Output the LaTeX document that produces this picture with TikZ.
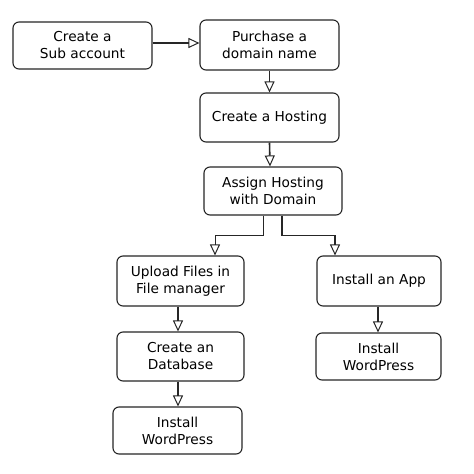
\documentclass[tikz,border=0pt]{standalone}
\usepackage{fontspec}
\setmainfont{DejaVu Sans}
\usetikzlibrary{arrows.meta}

\tikzset{
  stepbox/.style={draw=black!85, line width=1.1pt, rounded corners=6pt, align=center,
    font=\fontsize{13.7}{17}\selectfont, inner sep=0pt},
  flow/.style={-{Triangle[open,length=11pt,width=10pt,line width=1pt]}, line width=1.6pt, draw=black!85},
  thinflow/.style={flow, line width=0.9pt}
}

\begin{document}
\begin{tikzpicture}[x=1pt,y=-1pt]
  \useasboundingbox[fill=white] (0,0) rectangle (474,474);

  \draw (82.5,45.5) node[stepbox, minimum width=139pt, minimum height=47pt] (sub) {Create a\\Sub account};
  \draw (269.5,45) node[stepbox, minimum width=139pt, minimum height=50pt] (domain) {Purchase a\\domain name};
  \draw (269.5,117.5) node[stepbox, minimum width=139pt, minimum height=49pt] (hosting) {Create a Hosting};
  \draw (273,191) node[stepbox, minimum width=138pt, minimum height=48pt] (assign) {Assign Hosting\\with Domain};

  \draw (180.5,281) node[stepbox, minimum width=127pt, minimum height=50pt] (upload) {Upload Files in\\File manager};
      \draw (180.5,356.5) node[stepbox, minimum width=127pt, minimum height=49pt] (database) {Create an\\Database};
      \draw (177.5,430.5) node[stepbox, minimum width=129pt, minimum height=47pt] (wpleft) {Install\\WordPress};

  \draw (379,281) node[stepbox, minimum width=124pt, minimum height=50pt] (app) {Install an App};
      \draw (378.5,356.5) node[stepbox, minimum width=125pt, minimum height=47pt] (wpright) {Install\\WordPress};

    \draw[flow] ([yshift=2.5pt]sub.east) -- ([yshift=2pt]domain.west);
    \draw[flow] (domain.south) -- (hosting.north);
    \draw[flow] (hosting.south) -- ([xshift=-3pt]assign.north);
    \draw[thinflow] ([xshift=-10pt]assign.south) -- ++(0,20) -| ([xshift=34.5pt]upload.north);
    \draw[flow, line width=1.3pt] ([xshift=9pt]assign.south) -- ++(0,20) -| ([xshift=-44pt]app.north);
    \draw[thinflow, line width=1.1pt] ([xshift=-2.5pt]upload.south) -- ([xshift=-2.5pt]database.north);
    \draw[thinflow, line width=1.1pt] ([xshift=-2.5pt]database.south) -- ([xshift=0.5pt]wpleft.north);
    \draw[thinflow, line width=1.1pt] ([xshift=-1pt]app.south) -- ([xshift=-0.5pt]wpright.north);

\end{tikzpicture}
\end{document}
